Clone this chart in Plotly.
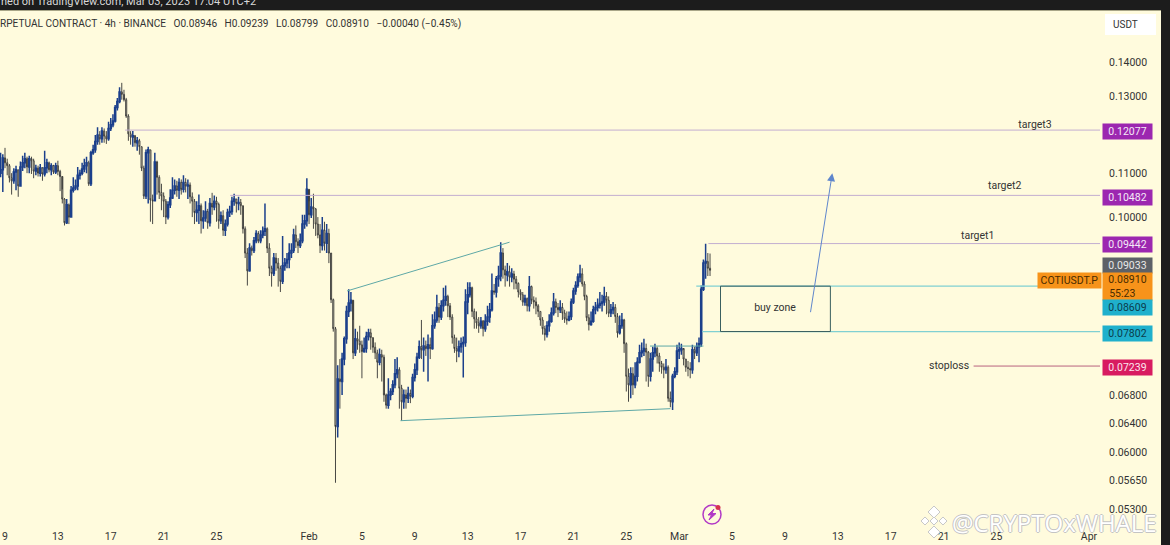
import numpy as np
import pandas as pd
import plotly.graph_objects as go

# COTIUSDT.P 4h candles, prices in 1e-4 USDT
close = [
    1108, 1137, 1125, 1118, 1089, 1082, 1103, 1108, 1070, 1115,
    1125, 1135, 1115, 1135, 1130, 1105, 1112, 1100, 1113, 1098,
    1113, 1125, 1108, 1118, 1103, 1118, 1104, 1092, 1040, 988,
    1027, 1000, 1060, 1065, 1070, 1095, 1100, 1110, 1118, 1125,
    1075, 1150, 1157, 1178, 1195, 1185, 1205, 1192, 1185, 1212,
    1222, 1232, 1268, 1285, 1312, 1305, 1290, 1245, 1198, 1190,
    1193, 1175, 1180, 1165, 1112, 1047, 1150, 1157, 1038, 1036,
    1127, 1090, 1055, 1047, 1035, 1000, 1027, 1042, 1060, 1070,
    1060, 1078, 1062, 1078, 1070, 1072, 1045, 1035, 1010, 1015,
    1025, 992, 998, 1012, 988, 1030, 1022, 1035, 1028, 992,
    1003, 972, 985, 1010, 1012, 1035, 1040, 1030, 1032, 1025,
    975, 925, 890, 935, 930, 950, 965, 950, 962, 970,
    975, 935, 895, 885, 915, 905, 895, 870, 900, 905,
    912, 925, 930, 962, 948, 940, 950, 985, 992, 1062,
    1005, 1022, 1018, 985, 962, 940, 972, 945, 965, 925,
    836, 785, 635, 704, 700, 735, 768, 815, 830, 835,
    745, 768, 764, 758, 747, 752, 772, 778, 770, 754,
    745, 730, 742, 738, 680, 665, 680, 685, 695, 712,
    718, 690, 670, 680, 675, 682, 678, 706, 718, 738,
    755, 750, 756, 752, 758, 752, 790, 800, 822, 805,
    825, 835, 842, 825, 805, 770, 752, 748, 755, 760,
    762, 832, 845, 858, 815, 802, 795, 790, 798, 785,
    798, 805, 818, 852, 850, 875, 880, 925, 892, 882,
    888, 878, 884, 874, 866, 850, 845, 832, 838, 825,
    860, 835, 832, 825, 815, 800, 785, 775, 790, 798,
    812, 832, 822, 818, 822, 812, 802, 800, 806, 832,
    852, 862, 878, 884, 865, 842, 804, 792, 798, 818,
    822, 826, 829, 832, 842, 835, 812, 818, 822, 806,
    778, 790, 800, 760, 708, 695, 712, 695, 708, 730,
    745, 748, 752, 746, 708, 735, 745, 752, 740, 728,
    722, 718, 722, 675, 670, 708, 715, 748, 750, 752,
    735, 722, 720, 718, 750, 745, 755, 760, 855, 905, 908, 895, 891,
]
high = [
    1150, 1146, 1162, 1135, 1122, 1100, 1112, 1118, 1108, 1128,
    1142, 1150, 1140, 1142, 1140, 1135, 1120, 1118, 1122, 1112,
    1155, 1135, 1128, 1124, 1120, 1125, 1130, 1108, 1062, 1042,
    1040, 1030, 1070, 1090, 1085, 1115, 1108, 1125, 1135, 1140,
    1130, 1155, 1170, 1195, 1215, 1205, 1215, 1212, 1205, 1230,
    1240, 1250, 1275, 1295, 1325, 1338, 1318, 1295, 1250, 1205,
    1205, 1195, 1190, 1185, 1165, 1118, 1158, 1165, 1157, 1050,
    1150, 1130, 1095, 1075, 1055, 1040, 1035, 1062, 1090, 1085,
    1082, 1088, 1085, 1095, 1088, 1085, 1078, 1055, 1040, 1035,
    1050, 1030, 1015, 1035, 1018, 1042, 1054, 1048, 1045, 1032,
    1012, 1015, 995, 1018, 1025, 1045, 1052, 1040, 1045, 1040,
    1025, 980, 935, 945, 940, 958, 972, 970, 972, 980,
    1030, 978, 945, 900, 925, 925, 915, 900, 960, 915,
    925, 945, 945, 975, 982, 955, 965, 1005, 1005, 1088,
    1035, 1042, 1052, 1020, 1000, 985, 1000, 990, 985, 975,
    925, 838, 788, 725, 735, 745, 772, 825, 855, 850,
    800, 785, 780, 790, 765, 770, 780, 785, 785, 770,
    762, 750, 752, 750, 742, 682, 705, 690, 702, 735,
    738, 722, 695, 688, 688, 692, 688, 712, 728, 745,
    765, 800, 770, 765, 775, 770, 810, 815, 845, 830,
    835, 858, 862, 845, 830, 810, 775, 770, 765, 770,
    772, 855, 868, 868, 860, 820, 815, 805, 805, 800,
    810, 825, 830, 885, 865, 880, 900, 947, 935, 900,
    905, 900, 895, 890, 880, 868, 855, 850, 845, 840,
    880, 862, 842, 840, 828, 815, 805, 790, 798, 810,
    822, 848, 838, 830, 835, 830, 818, 815, 815, 838,
    858, 870, 885, 902, 895, 870, 845, 810, 815, 825,
    832, 838, 850, 845, 860, 850, 842, 828, 832, 828,
    812, 808, 812, 802, 762, 720, 722, 722, 730, 738,
    758, 762, 768, 760, 748, 745, 755, 760, 755, 745,
    732, 728, 735, 725, 685, 712, 722, 758, 762, 760,
    750, 735, 732, 730, 758, 755, 762, 770, 862, 912, 944, 925, 924,
]
low = [
    1090, 1056, 1112, 1095, 1078, 1050, 1075, 1060, 1045, 1090,
    1105, 1112, 1100, 1100, 1098, 1088, 1095, 1092, 1092, 1082,
    1092, 1100, 1102, 1095, 1098, 1098, 1095, 1058, 1030, 982,
    985, 985, 1000, 1055, 1060, 1060, 1085, 1095, 1102, 1100,
    1070, 1070, 1145, 1150, 1170, 1170, 1175, 1175, 1172, 1180,
    1205, 1215, 1228, 1260, 1280, 1290, 1285, 1240, 1180, 1170,
    1165, 1165, 1155, 1145, 1105, 1040, 1040, 1030, 990, 985,
    1090, 1050, 1040, 1015, 1000, 985, 995, 1020, 1040, 1050,
    1045, 1040, 1050, 1055, 1055, 1040, 1030, 1000, 985, 990,
    985, 965, 975, 990, 975, 980, 1005, 1015, 990, 975,
    985, 960, 960, 980, 1000, 1005, 1025, 1010, 1015, 1005,
    965, 915, 862, 888, 920, 925, 945, 945, 945, 955,
    960, 925, 880, 860, 880, 890, 860, 850, 865, 890,
    895, 895, 915, 925, 935, 925, 935, 945, 975, 980,
    985, 998, 975, 960, 955, 925, 930, 930, 925, 905,
    830, 780, 562, 620, 660, 680, 725, 760, 805, 815,
    735, 740, 750, 745, 705, 745, 745, 765, 750, 745,
    735, 705, 725, 700, 670, 660, 660, 672, 680, 690,
    705, 660, 643, 660, 660, 668, 668, 675, 700, 710,
    735, 735, 715, 740, 700, 735, 750, 785, 795, 795,
    800, 815, 825, 805, 800, 760, 745, 730, 738, 745,
    706, 755, 810, 840, 805, 785, 785, 778, 785, 772,
    780, 790, 795, 815, 845, 840, 860, 870, 875, 860,
    870, 860, 868, 855, 855, 840, 835, 825, 825, 815,
    815, 828, 820, 810, 805, 790, 775, 765, 770, 780,
    795, 808, 812, 805, 812, 800, 795, 792, 798, 800,
    828, 845, 858, 868, 860, 835, 798, 782, 790, 795,
    810, 815, 820, 815, 825, 810, 805, 805, 810, 795,
    770, 775, 785, 745, 685, 670, 675, 680, 690, 700,
    728, 738, 740, 700, 692, 700, 715, 738, 728, 715,
    712, 705, 712, 670, 662, 658, 705, 710, 735, 742,
    725, 715, 708, 705, 712, 735, 740, 730, 755, 852, 875, 880, 880,
]
first_open = 1100

tick_dates = ["2023-01-09", "2023-01-13", "2023-01-17", "2023-01-21", "2023-01-25", "2023-02-01",
              "2023-02-05", "2023-02-09", "2023-02-13", "2023-02-17", "2023-02-21", "2023-02-25",
              "2023-03-01", "2023-03-05", "2023-03-09", "2023-03-13", "2023-03-17", "2023-03-21",
              "2023-03-25", "2023-04-01"]
tick_text = ["9", "13", "17", "21", "25", "Feb", "5", "9", "13", "17", "21", "25",
             "Mar", "5", "9", "13", "17", "21", "25", "Apr"]
price_ticks = [0.14, 0.13, 0.11, 0.10, 0.068, 0.064, 0.06, 0.0565, 0.053]

target3, target2, target1 = 0.12077, 0.10482, 0.09442
zone_top, zone_bottom, stoploss = 0.08609, 0.07802, 0.07239

note_text = ["target3", "target2", "target1", "stoploss", "buy zone"]
note_dates = ["2023-03-27 22:00", "2023-03-25 15:00", "2023-03-23 14:00", "2023-03-21 10:00", "2023-03-08 06:00"]
note_prices = [0.1221, 0.1070, 0.0960, stoploss, 0.082]

BG = "#fffbdd"
FRAME = "#1c1c1c"
FONT = "Roboto"
# the figure stops at the dark strip on the right, the page behind it is the strip
W, H = 1161, 545
ML, MT, MR, MB = 0, 10, 61, 17


def px(x):
    return (x - ML) / (W - ML - MR)


def py(y):
    return 1 - (y - MT) / (H - MT - MB)


def path(points):
    return "M " + " L ".join(f"{px(a):.5f} {py(b):.5f}" for a, b in points) + " Z"


times = pd.date_range(end="2023-03-03 08:00", periods=len(close), freq="4h")
c = np.array(close) / 1e4
o = np.array([first_open] + close[:-1]) / 1e4

fig = go.Figure()
fig.add_trace(
    go.Candlestick(
        x=times,
        open=o,
        high=np.array(high) / 1e4,
        low=np.array(low) / 1e4,
        close=c,
        whiskerwidth=0,
        increasing=dict(line=dict(color="#1b3f8b", width=1.5), fillcolor="#1b3f8b"),
        decreasing=dict(line=dict(color="#333333", width=0.9), fillcolor=BG),
        showlegend=False,
        hoverinfo="skip",
    )
)


def line(x, y, color, width=1):
    fig.add_trace(go.Scatter(x=x, y=y, mode="lines", line=dict(color=color, width=width),
                             showlegend=False, hoverinfo="skip"))


END = "2023-04-01 20:00"
line(["2023-01-18 02:00", END], [target3, target3], "#c3aed0")
line(["2023-01-26 01:00", END], [target2, target2], "#c3aed0")
line(["2023-03-03 05:00", END], [target1, target1], "#c3aed0")
line(["2023-03-02 07:00", "2023-03-28 16:00"], [zone_top, zone_top], "#80d0d2", 1.2)
line(["2023-03-02 18:00", END], [zone_bottom, zone_bottom], "#80d0d2", 1.2)
line(["2023-03-23 06:30", END], [stoploss, stoploss], "#b8637f")

# trendlines and buy zone box
line(["2023-02-03 21:00", "2023-02-16 04:00"], [0.0852, 0.0947], "#5ea8a6")
line(["2023-02-07 22:00", "2023-02-28 08:00"], [0.0643, 0.0660], "#5ea8a6")
line(["2023-02-26 19:00", "2023-03-02 20:00"], [0.0756, 0.0756], "#5ea8a6")
box_x = ["2023-03-04 03:00", "2023-03-12 10:30", "2023-03-12 10:30", "2023-03-04 03:00", "2023-03-04 03:00"]
box_y = [zone_top, zone_top, zone_bottom, zone_bottom, zone_top]
line(box_x, box_y, "#3a5f5f")

fig.add_trace(
    go.Scatter(
        x=note_dates,
        y=note_prices,
        text=note_text,
        mode="text",
        textposition="middle center",
        textfont=dict(family=FONT, size=10.5, color="#333333"),
        showlegend=False,
        hoverinfo="skip",
    )
)

annotations = [
    # projected move arrow
    dict(x="2023-03-12 14:00", y=np.log10(0.110), ax="2023-03-10 22:00", ay=np.log10(0.0811),
         xref="x", yref="y", axref="x", ayref="y", text="", showarrow=True, arrowhead=2,
         arrowwidth=1, arrowsize=1.6, arrowcolor="#5f86cc"),
]


def label(text, x, y, color="#333333", size=10.5, bg=None, width=None, height=None, anchor="center"):
    a = dict(text=text, x=px(x), y=py(y), xref="paper", yref="paper", showarrow=False, xanchor=anchor,
             yanchor="middle", font=dict(family=FONT, size=size, color=color), borderpad=0)
    if bg:
        a.update(bgcolor=bg, width=width, height=height)
    annotations.append(a)


label("hed on TradingView.com, Mar 03, 2023 17:04 UTC+2", 0, 1.5, "#d8d8d8", 11, anchor="left")
label("RPETUAL CONTRACT · 4h · BINANCE   O0.08946   H0.09239   L0.08799   C0.08910   −0.00040 (−0.45%)",
      -1, 24, "#333333", 10.1, anchor="left")
label("USDT", 1125, 24.5, "#333333", 10)

label("0.12077", 1127, 131, "#f5e9f7", bg="#9c27b0", width=49, height=15)
label("0.10482", 1127, 197, "#f5e9f7", bg="#9c27b0", width=49, height=15)
label("0.09442", 1127, 244.5, "#f5e9f7", bg="#9c27b0", width=49, height=15)
label("0.09033", 1127, 265, "#e8e8e8", bg="#5d6167", width=49, height=15)
label("COTIUSDT.P", 1069, 280.5, "#4a2c00", bg="#f7931a", width=63, height=15)
label("0.08910<br>55:23\u00a0\u00a0\u00a0\u00a0", 1127, 286.5, "#4a2c00", bg="#f7931a", width=49, height=27)
label("0.08609", 1127, 307.5, "#0b3d4d", bg="#1fb0cc", width=49, height=15)
label("0.07802", 1127, 333, "#0b3d4d", bg="#1fb0cc", width=49, height=15)
label("0.07239", 1127, 367.5, "#fbe4ee", bg="#d81b60", width=49, height=15)

watermark = "-1px 0 0 #c4c4c4, 1px 0 0 #c4c4c4, 0 -1px 0 #c4c4c4, 0 1px 0 #c4c4c4"
a_font = dict(family="Open Sans", size=24, color="#ffffff", shadow=watermark)
annotations.append(dict(text="@CRYPTOxWHALE", x=px(950), y=py(522), xref="paper", yref="paper",
                        showarrow=False, xanchor="left", yanchor="middle", font=a_font))

shapes = [
    dict(type="rect", xref="paper", yref="paper", x0=0, x1=px(W), y0=py(0), y1=py(10),
         fillcolor=FRAME, line_width=0),
    dict(type="line", xref="paper", yref="paper", x0=0, x1=px(W), y0=py(10.5), y1=py(10.5),
         line=dict(color="#a9a688", width=1)),
    dict(type="rect", xref="paper", yref="paper", x0=px(1105), x1=px(1156), y0=py(14), y1=py(35),
         fillcolor="#ffffff", line_width=0, layer="below"),
    # alert icon
    dict(type="circle", xref="paper", yref="paper", x0=px(703), x1=px(721), y0=py(505), y1=py(524),
         line=dict(color="#b23ac6", width=1.5)),
    dict(type="circle", xref="paper", yref="paper", x0=px(715.5), x1=px(720.5), y0=py(505), y1=py(510),
         fillcolor="#d6304f", line_width=0),
    dict(type="path", xref="paper", yref="paper", line=dict(color="#b23ac6", width=1),
         path=path([(714, 509), (708, 515), (711.5, 515), (709, 520), (716, 513.5), (712, 513.5)]),
         fillcolor="#b23ac6"),
]

# watermark logo, five small diamonds
for cx, cy, r in [(934, 512, 6), (925, 521, 4), (943, 521, 4), (934, 521, 4), (934, 532, 6)]:
    shapes.append(dict(type="path", xref="paper", yref="paper", fillcolor="#ffffff",
                       line=dict(color="#c8c8c8", width=1),
                       path=path([(cx, cy - r), (cx + r, cy), (cx, cy + r), (cx - r, cy)])))

fig.update_layout(
    width=W,
    height=H,
    margin=dict(l=ML, r=MR, t=MT, b=MB),
    paper_bgcolor=BG,
    plot_bgcolor=BG,
    showlegend=False,
    annotations=annotations,
    shapes=shapes,
    hovermode=False,
    xaxis=dict(
        type="date",
        range=["2023-01-08 14:55", END],
        rangeslider_visible=False,
        tickmode="array",
        tickvals=tick_dates,
        ticktext=tick_text,
        showgrid=False,
        zeroline=False,
        showline=False,
        ticks="",
        tickangle=0,
        tickfont=dict(family=FONT, size=10.5, color="#333333"),
    ),
    yaxis=dict(
        type="log",
        side="right",
        range=[np.log10(0.05095), np.log10(0.1567)],
        tickmode="array",
        tickvals=price_ticks,
        ticktext=[f"{v:.5f}" for v in price_ticks],
        showgrid=False,
        zeroline=False,
        showline=False,
        ticks="",
        ticklabelstandoff=8,
        tickfont=dict(family=FONT, size=10.5, color="#333333"),
    ),
)

fig.write_html(
    "out.html",
    config={"displayModeBar": False},
    post_script=f"document.body.style.margin='0';document.body.style.background='{FRAME}';",
)
